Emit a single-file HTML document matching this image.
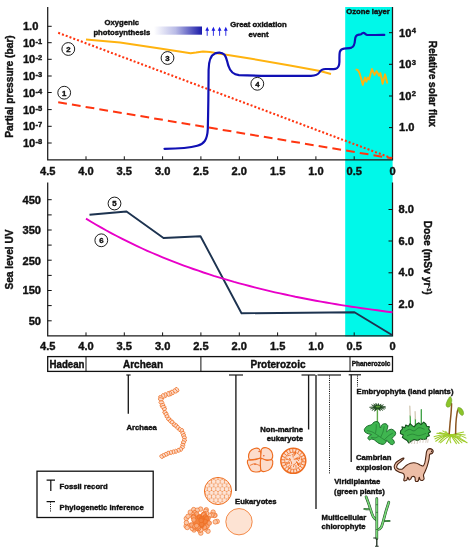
<!DOCTYPE html>
<html><head><meta charset="utf-8"><title>Figure</title>
<style>
html,body{margin:0;padding:0;background:#fff;}
svg{display:block;font-family:"Liberation Sans",Arial,sans-serif;font-weight:bold;fill:#111;}
text{stroke:#111;stroke-width:0.4px;stroke-linejoin:round;}
.ax{stroke:#1c1c1c;stroke-width:1.25;fill:none;}
.tk{stroke:#111;stroke-width:1;fill:none;}
.t10{font-size:11.1px;}
.lb{font-size:7.7px;}
.or{stroke:#f07224;fill:#fde3d3;stroke-width:0.8;}
</style></head><body>
<svg width="470" height="550" viewBox="0 0 470 550">
<defs>
<linearGradient id="og" x1="0" x2="1" y1="0" y2="0"><stop offset="0" stop-color="#ffffff"/><stop offset="0.45" stop-color="#b9bbe6"/><stop offset="1" stop-color="#1a1aa8"/></linearGradient>
<pattern id="hex" width="4.3" height="7.45" patternUnits="userSpaceOnUse" patternTransform="translate(205.1,476.1)">
<rect width="4.3" height="7.45" fill="#f08a48"/>
<circle cx="2.15" cy="1.86" r="2.0" fill="#fde4d6"/><circle cx="0" cy="5.59" r="2.0" fill="#fde4d6"/><circle cx="4.3" cy="5.59" r="2.0" fill="#fde4d6"/>
</pattern>
</defs>
<rect width="470" height="550" fill="#fff"/>

<rect x="345.2" y="7" width="47.4" height="329.5" fill="#00f8e9"/>
<path class="ax" d="M47.7 7V159.8H392.5V7"/>
<path class="tk" d="M47.7 26.3h4"/>
<path class="tk" d="M47.7 42.7h4"/>
<path class="tk" d="M47.7 59.3h4"/>
<path class="tk" d="M47.7 76h4"/>
<path class="tk" d="M47.7 92.5h4"/>
<path class="tk" d="M47.7 109.6h4"/>
<path class="tk" d="M47.7 126.3h4"/>
<path class="tk" d="M47.7 143h4"/>
<path class="tk" d="M392.5 32.7h-3.5"/>
<path class="tk" d="M392.5 64.3h-3.5"/>
<path class="tk" d="M392.5 96h-3.5"/>
<path class="tk" d="M392.5 127.6h-3.5"/>
<path class="tk" d="M354.2 159.8v-3.5"/>
<path class="tk" d="M315.9 159.8v-3.5"/>
<path class="tk" d="M277.6 159.8v-3.5"/>
<path class="tk" d="M239.3 159.8v-3.5"/>
<path class="tk" d="M200.9 159.8v-3.5"/>
<path class="tk" d="M162.6 159.8v-3.5"/>
<path class="tk" d="M124.3 159.8v-3.5"/>
<path class="tk" d="M86.0 159.8v-3.5"/>
<text class="t10" x="22.9" y="30.2">1.0</text>
<text class="t10" x="22.9" y="46.800000000000004">10<tspan font-size="7.5px" dx="0.3" dy="-3.1">-1</tspan></text>
<text class="t10" x="22.9" y="63.4">10<tspan font-size="7.5px" dx="0.3" dy="-3.1">-2</tspan></text>
<text class="t10" x="22.9" y="80.1">10<tspan font-size="7.5px" dx="0.3" dy="-3.1">-3</tspan></text>
<text class="t10" x="22.9" y="96.6">10<tspan font-size="7.5px" dx="0.3" dy="-3.1">-4</tspan></text>
<text class="t10" x="22.9" y="113.69999999999999">10<tspan font-size="7.5px" dx="0.3" dy="-3.1">-5</tspan></text>
<text class="t10" x="22.9" y="130.4">10<tspan font-size="7.5px" dx="0.3" dy="-3.1">-7</tspan></text>
<text class="t10" x="22.9" y="147.1">10<tspan font-size="7.5px" dx="0.3" dy="-3.1">-8</tspan></text>
<text class="t10" x="399" y="36.5">10<tspan font-size="7.6px" dx="0.5" dy="-3.4">4</tspan></text>
<text class="t10" x="399" y="68.1">10<tspan font-size="7.6px" dx="0.5" dy="-3.4">3</tspan></text>
<text class="t10" x="399" y="99.8">10<tspan font-size="7.6px" dx="0.5" dy="-3.4">2</tspan></text>
<text class="t10" x="399" y="131.2">1.0</text>
<text class="t10" text-anchor="middle" x="47.7" y="174.9">4.5</text>
<text class="t10" text-anchor="middle" x="47.7" y="350">4.5</text>
<text class="t10" text-anchor="middle" x="86.0" y="174.9">4.0</text>
<text class="t10" text-anchor="middle" x="86.0" y="350">4.0</text>
<text class="t10" text-anchor="middle" x="124.3" y="174.9">3.5</text>
<text class="t10" text-anchor="middle" x="124.3" y="350">3.5</text>
<text class="t10" text-anchor="middle" x="162.6" y="174.9">3.0</text>
<text class="t10" text-anchor="middle" x="162.6" y="350">3.0</text>
<text class="t10" text-anchor="middle" x="200.9" y="174.9">2.5</text>
<text class="t10" text-anchor="middle" x="200.9" y="350">2.5</text>
<text class="t10" text-anchor="middle" x="239.3" y="174.9">2.0</text>
<text class="t10" text-anchor="middle" x="239.3" y="350">2.0</text>
<text class="t10" text-anchor="middle" x="277.6" y="174.9">1.5</text>
<text class="t10" text-anchor="middle" x="277.6" y="350">1.5</text>
<text class="t10" text-anchor="middle" x="315.9" y="174.9">1.0</text>
<text class="t10" text-anchor="middle" x="315.9" y="350">1.0</text>
<text class="t10" text-anchor="middle" x="354.2" y="174.9">0.5</text>
<text class="t10" text-anchor="middle" x="354.2" y="350">0.5</text>
<text class="t10" text-anchor="middle" x="392.5" y="174.9">0</text>
<text class="t10" text-anchor="middle" x="392.5" y="350">0</text>
<text font-size="10.2px" text-anchor="middle" transform="translate(12.9,86.5) scale(1.06,1) rotate(-90)">Partial pressure (bar)</text>
<text font-size="10.1px" text-anchor="middle" transform="translate(428.6,83.8) scale(1.06,1) rotate(90)">Relative solar flux</text>
<path d="M58.2 102.3L392 158.3" stroke="#ff3510" stroke-width="2" stroke-dasharray="8.8 5.1" fill="none"/>
<path d="M58.2 32.8L392 158.3" stroke="#ff3510" stroke-width="2.1" stroke-dasharray="2 2.03" fill="none"/>
<path d="M86 39.6L120 42.5L160 48.5L190.6 53.2L196 52.6L203 51.5L210 52L220 53.8L250 58.5L290 65.5L320 71L331 74" stroke="#ffb30f" stroke-width="2" fill="none" stroke-linejoin="round"/>
<path d="M164.5 148.8C180 148.8 190 148 197.3 145.8C204 143.8 207.3 140 207.8 129C208.3 110 208.5 90 208.6 70C208.7 60 211 55 215 53.4C218 52.3 222 52 224.5 54.8C227 58 227 62 228.5 66C230 71 233 74.5 239 75.2C260 76 300 75.9 311 75.8C316 75.7 318 74.6 319.3 72.5C320.8 69.8 322.5 69 325.5 69C329 69 333 69.2 335.5 68.8C338.3 68.3 339.3 66 339.4 62C339.5 58 339.2 54.5 339.8 52C340.5 49.5 342 48.8 344 48.6C347 48.3 349.5 48.3 351.5 47.6C354.3 46.5 354.8 43 355 40C355.2 37 356 35.3 357.8 34.9C359 34.6 360.2 34.7 361 34.3C362.3 33.6 362.8 32.6 363.8 32.8C365 33 365.3 34.5 367 34.8C372 35.2 379 35 384.3 34.9" stroke="#1010b4" stroke-width="2.2" fill="none" stroke-linecap="round" stroke-linejoin="round"/>
<path d="M356.4 69.6L358 70.2L359.6 73.2L361.3 79L362.8 84.9L364.9 77.4L366.4 81.7L367.7 77.4L369.1 79.6L370.5 74L371.9 69L373.2 72L374.5 74.9L376.6 71L379.1 75.7L380.4 73.2L381.6 78.5L382.6 83.8L385.1 74.3L386.2 78.5L387.2 82.8" stroke="#ffb30f" stroke-width="1.9" fill="none" stroke-linejoin="round" stroke-linecap="round"/>
<text class="lb" text-anchor="middle" x="121.8" y="24.8">Oxygenic</text>
<text class="lb" text-anchor="middle" x="121.8" y="34.7">photosynthesis</text>
<rect x="154" y="26.5" width="48" height="8.2" fill="url(#og)"/>
<path d="M207.2 35.8V30" stroke="#1c1ce0" stroke-width="0.9" fill="none"/><path d="M205.29999999999998 30.8L207.2 26.8L209.1 30.8Z" fill="#1c1ce0"/>
<path d="M213.4 35.8V30" stroke="#1c1ce0" stroke-width="0.9" fill="none"/><path d="M211.5 30.8L213.4 26.8L215.3 30.8Z" fill="#1c1ce0"/>
<path d="M219.6 35.8V30" stroke="#1c1ce0" stroke-width="0.9" fill="none"/><path d="M217.7 30.8L219.6 26.8L221.5 30.8Z" fill="#1c1ce0"/>
<path d="M225.8 35.8V30" stroke="#1c1ce0" stroke-width="0.9" fill="none"/><path d="M223.9 30.8L225.8 26.8L227.70000000000002 30.8Z" fill="#1c1ce0"/>
<text class="lb" text-anchor="middle" x="258.5" y="27.2">Great oxidation</text>
<text class="lb" text-anchor="middle" x="258.5" y="36.6">event</text>
<text class="lb" text-anchor="middle" x="368" y="13.8" font-size="7.4px">Ozone layer</text>
<circle cx="64.2" cy="92.7" r="6.4" fill="#fff" stroke="#111" stroke-width="0.95"/><text font-size="7.8px" text-anchor="middle" x="64.2" y="95.5">1</text>
<circle cx="68.3" cy="49" r="6.4" fill="#fff" stroke="#111" stroke-width="0.95"/><text font-size="7.8px" text-anchor="middle" x="68.3" y="51.8">2</text>
<circle cx="167.5" cy="58" r="6.4" fill="#fff" stroke="#111" stroke-width="0.95"/><text font-size="7.8px" text-anchor="middle" x="167.5" y="60.8">3</text>
<circle cx="257.3" cy="83.8" r="6.4" fill="#fff" stroke="#111" stroke-width="0.95"/><text font-size="7.8px" text-anchor="middle" x="257.3" y="86.6">4</text>
<path class="ax" d="M47.7 182.5V335.9H392.5V182.5"/>
<path class="tk" d="M47.7 320.8h4"/>
<path class="tk" d="M47.7 305.6h4"/>
<path class="tk" d="M47.7 290.5h4"/>
<path class="tk" d="M47.7 275.4h4"/>
<path class="tk" d="M47.7 260.2h4"/>
<path class="tk" d="M47.7 245.1h4"/>
<path class="tk" d="M47.7 230.0h4"/>
<path class="tk" d="M47.7 214.9h4"/>
<path class="tk" d="M47.7 199.7h4"/>
<path class="tk" d="M392.5 209.5h-4"/>
<path class="tk" d="M392.5 241h-4"/>
<path class="tk" d="M392.5 272.8h-4"/>
<path class="tk" d="M392.5 304.5h-4"/>
<path class="tk" d="M354.2 335.9v-3.5"/>
<path class="tk" d="M315.9 335.9v-3.5"/>
<path class="tk" d="M277.6 335.9v-3.5"/>
<path class="tk" d="M239.3 335.9v-3.5"/>
<path class="tk" d="M200.9 335.9v-3.5"/>
<path class="tk" d="M162.6 335.9v-3.5"/>
<path class="tk" d="M124.3 335.9v-3.5"/>
<path class="tk" d="M86.0 335.9v-3.5"/>
<text class="t10" text-anchor="end" x="41" y="204.1">450</text>
<text class="t10" text-anchor="end" x="41" y="234.4">350</text>
<text class="t10" text-anchor="end" x="41" y="264.79999999999995">250</text>
<text class="t10" text-anchor="end" x="41" y="294.4">150</text>
<text class="t10" text-anchor="end" x="41" y="324.7">50</text>
<text class="t10" x="398.6" y="213.1">8.0</text>
<text class="t10" x="398.6" y="244.6">6.0</text>
<text class="t10" x="398.6" y="276.40000000000003">4.0</text>
<text class="t10" x="398.6" y="308.1">2.0</text>
<text font-size="10.1px" text-anchor="middle" transform="translate(12.6,259.6) scale(1.06,1) rotate(-90)">Sea level UV</text>
<text font-size="10.3px" text-anchor="middle" transform="translate(423.6,257.7) scale(1.06,1) rotate(90)">Dose (mSv yr<tspan font-size="5.5px" dy="-3.5">-1</tspan><tspan dy="3.5">)</tspan></text>
<path d="M89.5 214.7L126.5 211.5L163.5 238L200.5 236.2L241.5 313.3L354.5 312.2L392 335" stroke="#1d3350" stroke-width="1.9" fill="none" stroke-linejoin="round"/>
<path d="M86.0 218.6 L91.1 221.7 L96.2 224.7 L101.3 227.6 L106.4 230.5 L111.6 233.3 L116.7 236.0 L121.8 238.6 L126.9 241.2 L132.0 243.7 L137.1 246.1 L142.2 248.5 L147.3 250.8 L152.4 253.0 L157.5 255.2 L162.6 257.3 L167.7 259.4 L172.8 261.4 L178.0 263.4 L183.1 265.3 L188.2 267.2 L193.3 269.0 L198.4 270.7 L203.5 272.5 L208.6 274.1 L213.7 275.8 L218.8 277.3 L223.9 278.9 L229.0 280.4 L234.1 281.9 L239.3 283.3 L244.4 284.7 L249.5 286.0 L254.6 287.3 L259.7 288.6 L264.8 289.9 L269.9 291.1 L275.0 292.3 L280.1 293.4 L285.2 294.5 L290.3 295.6 L295.4 296.7 L300.6 297.7 L305.7 298.7 L310.8 299.7 L315.9 300.7 L321.0 301.6 L326.1 302.5 L331.2 303.4 L336.3 304.2 L341.4 305.1 L346.5 305.9 L351.6 306.7 L356.7 307.4 L361.9 308.2 L367.0 308.9 L372.1 309.6 L377.2 310.3 L382.3 311.0 L387.4 311.7 L392.5 312.3" stroke="#e800c8" stroke-width="1.9" fill="none"/>
<circle cx="114.5" cy="203.5" r="6.4" fill="#fff" stroke="#111" stroke-width="0.95"/><text font-size="7.8px" text-anchor="middle" x="114.5" y="206.3">5</text>
<circle cx="101.3" cy="240.3" r="6.4" fill="#fff" stroke="#111" stroke-width="0.95"/><text font-size="7.8px" text-anchor="middle" x="101.3" y="243.10000000000002">6</text>
<rect x="47.7" y="356.6" width="344.8" height="14.8" fill="#fff" stroke="#111" stroke-width="1.3"/>
<path class="tk" d="M86.0 356.6v14.8" stroke-width="1.2"/>
<path class="tk" d="M200.9 356.6v14.8" stroke-width="1.2"/>
<path class="tk" d="M350.0 356.6v14.8" stroke-width="1.2"/>
<text font-size="10px" text-anchor="middle" x="67" y="367.6" textLength="35" lengthAdjust="spacingAndGlyphs">Hadean</text>
<text font-size="10px" text-anchor="middle" x="143" y="367.6">Archean</text>
<text font-size="10px" text-anchor="middle" x="278" y="367.6">Proterozoic</text>
<text font-size="6.5px" text-anchor="middle" x="371" y="366.4">Phanerozoic</text>
<path d="M126.3 375H130.6" stroke="#1a1a1a" stroke-width="1.2" fill="none"/>
<path d="M128.3 375V413.8" stroke="#1a1a1a" stroke-width="1.35" fill="none"/>
<path d="M229 375H243" stroke="#1a1a1a" stroke-width="1.2" fill="none"/>
<path d="M235.9 375V491" stroke="#1a1a1a" stroke-width="1.35" fill="none"/>
<path d="M301.5 375H315.3" stroke="#1a1a1a" stroke-width="1.2" fill="none"/>
<path d="M308.6 375V429.5" stroke="#1a1a1a" stroke-width="1.35" fill="none"/>
<path d="M317.5 375H341" stroke="#1a1a1a" stroke-width="1.2" fill="none"/>
<path d="M316 375V509" stroke="#1a1a1a" stroke-width="1.35" fill="none"/>
<path d="M329.5 375.5V474.5" stroke="#111" stroke-width="1" stroke-dasharray="1.1 1.1" fill="none"/>
<path d="M348.7 374.8H361" stroke="#1a1a1a" stroke-width="1.2" fill="none"/>
<path d="M351.2 374.8V462" stroke="#1a1a1a" stroke-width="1.35" fill="none"/>
<path d="M357.5 375.5V387" stroke="#111" stroke-width="1" stroke-dasharray="1.1 1.1" fill="none"/>
<text class="lb" x="126.5" y="429.5">Archaea</text>
<text class="lb" text-anchor="end" x="303" y="431.5">Non-marine</text>
<text class="lb" text-anchor="end" x="303" y="441.2">eukaryote</text>
<text class="lb" x="235" y="503.8">Eukaryotes</text>
<text class="lb" x="356.5" y="393.5">Embryophyta (land plants)</text>
<text class="lb" x="356" y="460.3">Cambrian</text>
<text class="lb" x="356" y="470">explosion</text>
<text class="lb" text-anchor="middle" x="357.3" y="484.3">Viridiplantae</text>
<text class="lb" text-anchor="middle" x="359.5" y="494">(green plants)</text>
<text class="lb" x="321.5" y="519.5">Multicellular</text>
<text class="lb" x="321.5" y="529.3">chlorophyte</text>
<rect x="37" y="471.2" width="116.2" height="46.3" fill="#fff" stroke="#111" stroke-width="1.3"/>
<path d="M46.6 480.2H55M50.8 480.2V491" stroke="#111" stroke-width="1.25" fill="none"/>
<path d="M46.6 501.6H55" stroke="#111" stroke-width="1.25" fill="none"/><path d="M50.5 501.6V512.5" stroke="#111" stroke-width="1" stroke-dasharray="1.1 1.1" fill="none"/>
<text class="lb" x="59.5" y="489">Fossil record</text>
<text class="lb" x="59.5" y="509.8">Phylogenetic inference</text>
<g fill="#fcdccb" stroke="#ee6c20" stroke-width="0.7"><ellipse cx="177.0" cy="389.7" rx="1.55" ry="2.5" transform="rotate(147 177.0 389.7)"/><ellipse cx="175.1" cy="391.0" rx="1.55" ry="2.5" transform="rotate(136 175.1 391.0)"/><ellipse cx="172.3" cy="392.4" rx="1.55" ry="2.5" transform="rotate(146 172.3 392.4)"/><ellipse cx="170.2" cy="393.5" rx="1.55" ry="2.5" transform="rotate(157 170.2 393.5)"/><ellipse cx="168.4" cy="394.0" rx="1.55" ry="2.5" transform="rotate(164 168.4 394.0)"/><ellipse cx="165.4" cy="395.1" rx="1.55" ry="2.5" transform="rotate(172 165.4 395.1)"/><ellipse cx="163.3" cy="396.0" rx="1.55" ry="2.5" transform="rotate(159 163.3 396.0)"/><ellipse cx="160.9" cy="397.5" rx="1.55" ry="2.5" transform="rotate(124 160.9 397.5)"/><ellipse cx="160.8" cy="399.3" rx="1.55" ry="2.5" transform="rotate(101 160.8 399.3)"/><ellipse cx="161.4" cy="402.4" rx="1.55" ry="2.5" transform="rotate(90 161.4 402.4)"/><ellipse cx="162.4" cy="405.1" rx="1.55" ry="2.5" transform="rotate(67 162.4 405.1)"/><ellipse cx="163.4" cy="407.0" rx="1.55" ry="2.5" transform="rotate(83 163.4 407.0)"/><ellipse cx="164.5" cy="409.0" rx="1.55" ry="2.1" transform="rotate(55 164.5 409.0)"/><ellipse cx="164.8" cy="412.2" rx="1.55" ry="2.1" transform="rotate(67 164.8 412.2)"/><ellipse cx="166.1" cy="414.0" rx="1.55" ry="2.1" transform="rotate(67 166.1 414.0)"/><ellipse cx="167.0" cy="416.3" rx="1.55" ry="2.1" transform="rotate(63 167.0 416.3)"/><ellipse cx="168.6" cy="418.9" rx="1.55" ry="2.1" transform="rotate(60 168.6 418.9)"/><ellipse cx="170.5" cy="420.8" rx="1.55" ry="2.1" transform="rotate(67 170.5 420.8)"/><ellipse cx="172.0" cy="422.1" rx="1.55" ry="2.1" transform="rotate(59 172.0 422.1)"/><ellipse cx="174.1" cy="424.5" rx="1.55" ry="2.1" transform="rotate(46 174.1 424.5)"/><ellipse cx="175.8" cy="425.6" rx="1.55" ry="2.1" transform="rotate(53 175.8 425.6)"/><ellipse cx="177.6" cy="427.4" rx="1.55" ry="2.1" transform="rotate(23 177.6 427.4)"/><ellipse cx="179.8" cy="429.5" rx="1.55" ry="2.1" transform="rotate(22 179.8 429.5)"/><ellipse cx="181.8" cy="430.5" rx="1.55" ry="2.1" transform="rotate(34 181.8 430.5)"/><ellipse cx="182.8" cy="433.0" rx="1.55" ry="2.1" transform="rotate(76 182.8 433.0)"/><ellipse cx="183.5" cy="435.2" rx="1.55" ry="2.1" transform="rotate(59 183.5 435.2)"/><ellipse cx="184.4" cy="437.5" rx="1.55" ry="2.1" transform="rotate(102 184.4 437.5)"/><ellipse cx="184.5" cy="440.2" rx="1.55" ry="2.1" transform="rotate(114 184.5 440.2)"/><ellipse cx="183.5" cy="442.3" rx="1.55" ry="2.1" transform="rotate(103 183.5 442.3)"/><ellipse cx="182.8" cy="444.9" rx="1.55" ry="2.1" transform="rotate(102 182.8 444.9)"/><ellipse cx="182.4" cy="447.2" rx="1.55" ry="2.1" transform="rotate(106 182.4 447.2)"/><ellipse cx="180.9" cy="449.2" rx="1.55" ry="2.1" transform="rotate(161 180.9 449.2)"/><ellipse cx="178.6" cy="450.3" rx="1.55" ry="2.1" transform="rotate(157 178.6 450.3)"/><ellipse cx="175.8" cy="451.3" rx="1.55" ry="2.1" transform="rotate(168 175.8 451.3)"/><ellipse cx="173.4" cy="451.9" rx="1.55" ry="2.1" transform="rotate(181 173.4 451.9)"/><ellipse cx="170.9" cy="452.5" rx="1.55" ry="2.1" transform="rotate(170 170.9 452.5)"/><ellipse cx="168.2" cy="453.2" rx="1.55" ry="2.1" transform="rotate(177 168.2 453.2)"/><ellipse cx="166.1" cy="454.3" rx="1.55" ry="2.1" transform="rotate(140 166.1 454.3)"/><ellipse cx="163.7" cy="455.4" rx="1.55" ry="2.1" transform="rotate(137 163.7 455.4)"/><ellipse cx="161.6" cy="456.6" rx="1.55" ry="2.1" transform="rotate(136 161.6 456.6)"/></g>
<circle cx="218" cy="491" r="13.6" fill="url(#hex)" stroke="#f07224" stroke-width="1"/>
<circle cx="239" cy="521.7" r="13.2" class="or" stroke-width="1"/>
<ellipse cx="201" cy="521" rx="9" ry="7" fill="#f3843f"/>
<circle cx="213.1" cy="512.1" r="2.25" fill="#fbc9aa" stroke="#ee6c20" stroke-width="0.65"/>
<circle cx="193.7" cy="509.6" r="2.25" fill="#fbc9aa" stroke="#ee6c20" stroke-width="0.65"/>
<circle cx="186.1" cy="526.1" r="2.25" fill="#fbc9aa" stroke="#ee6c20" stroke-width="0.65"/>
<circle cx="217.2" cy="521.4" r="2.25" fill="#fbc9aa" stroke="#ee6c20" stroke-width="0.65"/>
<circle cx="187.2" cy="527.5" r="2.25" fill="#fbc9aa" stroke="#ee6c20" stroke-width="0.65"/>
<circle cx="215.0" cy="515.3" r="2.25" fill="#fbc9aa" stroke="#ee6c20" stroke-width="0.65"/>
<circle cx="190.3" cy="512.2" r="2.25" fill="#fbc9aa" stroke="#ee6c20" stroke-width="0.65"/>
<circle cx="200.8" cy="533.1" r="2.25" fill="#fbc9aa" stroke="#ee6c20" stroke-width="0.65"/>
<circle cx="206.3" cy="509.8" r="2.25" fill="#fbc9aa" stroke="#ee6c20" stroke-width="0.65"/>
<circle cx="200.6" cy="509.1" r="2.25" fill="#fbc9aa" stroke="#ee6c20" stroke-width="0.65"/>
<circle cx="186.3" cy="518.5" r="2.25" fill="#fbc9aa" stroke="#ee6c20" stroke-width="0.65"/>
<circle cx="214.2" cy="515.5" r="2.25" fill="#fbc9aa" stroke="#ee6c20" stroke-width="0.65"/>
<circle cx="208.0" cy="531.2" r="2.25" fill="#fbc9aa" stroke="#ee6c20" stroke-width="0.65"/>
<circle cx="186.4" cy="522.6" r="2.25" fill="#fbc9aa" stroke="#ee6c20" stroke-width="0.65"/>
<circle cx="215.3" cy="521.9" r="2.25" fill="#fbc9aa" stroke="#ee6c20" stroke-width="0.65"/>
<circle cx="197.2" cy="510.2" r="2.25" fill="#fbc9aa" stroke="#ee6c20" stroke-width="0.65"/>
<circle cx="188.0" cy="516.3" r="2.25" fill="#fbc9aa" stroke="#ee6c20" stroke-width="0.65"/>
<circle cx="212.4" cy="514.8" r="2.25" fill="#fbc9aa" stroke="#ee6c20" stroke-width="0.65"/>
<circle cx="194.0" cy="530.0" r="2.25" fill="#fbc9aa" stroke="#ee6c20" stroke-width="0.65"/>
<circle cx="205.7" cy="511.2" r="2.25" fill="#fbc9aa" stroke="#ee6c20" stroke-width="0.65"/>
<circle cx="192.2" cy="528.4" r="2.25" fill="#fbc9aa" stroke="#ee6c20" stroke-width="0.65"/>
<circle cx="211.2" cy="515.2" r="2.25" fill="#fbc9aa" stroke="#ee6c20" stroke-width="0.65"/>
<circle cx="199.6" cy="530.4" r="2.25" fill="#fbc9aa" stroke="#ee6c20" stroke-width="0.65"/>
<circle cx="194.7" cy="512.9" r="2.25" fill="#fbc9aa" stroke="#ee6c20" stroke-width="0.65"/>
<circle cx="194.8" cy="513.0" r="2.25" fill="#fbc9aa" stroke="#ee6c20" stroke-width="0.65"/>
<circle cx="190.8" cy="525.2" r="2.25" fill="#fbc9aa" stroke="#ee6c20" stroke-width="0.65"/>
<circle cx="193.1" cy="514.6" r="2.25" fill="#fbc9aa" stroke="#ee6c20" stroke-width="0.65"/>
<circle cx="200.9" cy="529.8" r="2.25" fill="#fbc9aa" stroke="#ee6c20" stroke-width="0.65"/>
<circle cx="209.4" cy="515.2" r="2.25" fill="#fbc9aa" stroke="#ee6c20" stroke-width="0.65"/>
<circle cx="206.5" cy="513.5" r="2.25" fill="#fbc9aa" stroke="#ee6c20" stroke-width="0.65"/>
<circle cx="205.2" cy="529.0" r="2.25" fill="#fbc9aa" stroke="#ee6c20" stroke-width="0.65"/>
<circle cx="194.9" cy="527.9" r="2.25" fill="#f8a878" stroke="#ee6c20" stroke-width="0.65"/>
<circle cx="191.7" cy="525.0" r="2.25" fill="#f8a878" stroke="#ee6c20" stroke-width="0.65"/>
<circle cx="197.8" cy="528.6" r="2.25" fill="#f8a878" stroke="#ee6c20" stroke-width="0.65"/>
<circle cx="196.7" cy="514.0" r="2.25" fill="#f8a878" stroke="#ee6c20" stroke-width="0.65"/>
<circle cx="204.4" cy="513.8" r="2.25" fill="#f8a878" stroke="#ee6c20" stroke-width="0.65"/>
<circle cx="193.6" cy="516.1" r="2.25" fill="#f8a878" stroke="#ee6c20" stroke-width="0.65"/>
<circle cx="198.6" cy="528.4" r="2.25" fill="#f8a878" stroke="#ee6c20" stroke-width="0.65"/>
<circle cx="196.8" cy="527.8" r="2.25" fill="#f8a878" stroke="#ee6c20" stroke-width="0.65"/>
<circle cx="193.1" cy="516.9" r="2.25" fill="#f8a878" stroke="#ee6c20" stroke-width="0.65"/>
<circle cx="194.9" cy="526.5" r="2.25" fill="#f8a878" stroke="#ee6c20" stroke-width="0.65"/>
<circle cx="205.3" cy="527.3" r="2.25" fill="#f8a878" stroke="#ee6c20" stroke-width="0.65"/>
<circle cx="207.2" cy="526.1" r="2.25" fill="#f8a878" stroke="#ee6c20" stroke-width="0.65"/>
<circle cx="193.4" cy="517.3" r="2.25" fill="#f8a878" stroke="#ee6c20" stroke-width="0.65"/>
<circle cx="204.6" cy="527.3" r="2.25" fill="#f8a878" stroke="#ee6c20" stroke-width="0.65"/>
<circle cx="209.3" cy="523.1" r="2.25" fill="#f8a878" stroke="#ee6c20" stroke-width="0.65"/>
<circle cx="203.4" cy="514.5" r="2.25" fill="#f8a878" stroke="#ee6c20" stroke-width="0.65"/>
<circle cx="203.7" cy="515.0" r="2.25" fill="#f8a878" stroke="#ee6c20" stroke-width="0.65"/>
<circle cx="198.1" cy="526.7" r="2.25" fill="#f8a878" stroke="#ee6c20" stroke-width="0.65"/>
<circle cx="208.1" cy="518.3" r="2.25" fill="#f8a878" stroke="#ee6c20" stroke-width="0.65"/>
<circle cx="196.6" cy="525.7" r="2.25" fill="#f8a878" stroke="#ee6c20" stroke-width="0.65"/>
<circle cx="193.8" cy="519.9" r="2.25" fill="#f8a878" stroke="#ee6c20" stroke-width="0.65"/>
<circle cx="205.2" cy="516.8" r="2.25" fill="#f2813c" stroke="#ee6c20" stroke-width="0.65"/>
<circle cx="206.8" cy="518.5" r="2.25" fill="#f2813c" stroke="#ee6c20" stroke-width="0.65"/>
<circle cx="201.9" cy="525.5" r="2.25" fill="#f2813c" stroke="#ee6c20" stroke-width="0.65"/>
<circle cx="199.3" cy="517.1" r="2.25" fill="#f2813c" stroke="#ee6c20" stroke-width="0.65"/>
<circle cx="201.6" cy="524.4" r="2.25" fill="#f2813c" stroke="#ee6c20" stroke-width="0.65"/>
<circle cx="205.1" cy="521.4" r="2.25" fill="#f2813c" stroke="#ee6c20" stroke-width="0.65"/>
<circle cx="202.3" cy="518.4" r="2.25" fill="#f2813c" stroke="#ee6c20" stroke-width="0.65"/>
<circle cx="201.4" cy="518.9" r="2.25" fill="#f2813c" stroke="#ee6c20" stroke-width="0.65"/>
<circle cx="201.6" cy="520.0" r="2.25" fill="#f2813c" stroke="#ee6c20" stroke-width="0.65"/>
<circle cx="201.1" cy="520.5" r="2.25" fill="#f2813c" stroke="#ee6c20" stroke-width="0.65"/>
<path d="M248.5 457.0C248.5 455.7 248.9 453.0 249.9 451.6C250.9 450.2 252.9 449.0 254.5 448.5C256.0 448.1 258.0 448.1 259.1 448.9C260.1 449.6 260.5 451.3 260.8 452.8C261.0 454.3 261.5 456.8 260.8 457.9C260.0 458.9 257.9 458.8 256.2 459.1C254.4 459.4 251.5 460.1 250.2 459.7C248.9 459.4 248.6 458.4 248.5 457.0Z" fill="#fcdccb" stroke="#ee6c20" stroke-width="1.15" stroke-linejoin="round"/>
<path d="M261.1 452.8C261.2 451.2 260.9 449.7 261.8 448.9C262.7 448.0 264.9 447.5 266.4 447.8C267.9 448.1 269.9 449.3 271.0 450.6C272.0 451.8 272.6 453.9 272.7 455.3C272.8 456.7 272.6 458.3 271.7 459.1C270.8 459.9 269.0 460.2 267.2 460.1C265.5 460.0 262.1 459.6 261.1 458.4C260.1 457.2 261.0 454.4 261.1 452.8Z" fill="#fcdccb" stroke="#ee6c20" stroke-width="1.15" stroke-linejoin="round"/>
<path d="M247.8 460.1C248.3 459.6 248.8 460.2 250.2 460.1C251.6 460.0 254.4 459.7 256.2 459.4C257.9 459.1 260.1 457.4 260.8 458.4C261.5 459.4 260.4 463.5 260.4 465.5C260.4 467.6 261.3 469.6 260.8 470.6C260.2 471.7 258.4 471.9 257.0 472.0C255.6 472.1 253.4 471.9 252.3 471.3C251.1 470.8 250.5 469.6 249.9 468.6C249.2 467.6 248.9 466.5 248.5 465.5C248.1 464.6 247.6 463.9 247.5 463.0C247.4 462.1 247.4 460.6 247.8 460.1Z" fill="#fcdccb" stroke="#ee6c20" stroke-width="1.15" stroke-linejoin="round"/>
<path d="M261.1 458.7C262.2 457.9 265.4 460.3 267.2 460.4C269.0 460.6 271.1 459.2 272.0 459.7C272.9 460.3 272.9 462.4 272.7 463.8C272.5 465.3 271.8 467.3 270.6 468.6C269.4 469.8 267.1 471.0 265.5 471.3C264.0 471.7 262.1 471.6 261.3 470.6C260.4 469.7 260.5 467.5 260.4 465.5C260.4 463.5 260.0 459.6 261.1 458.7Z" fill="#fcdccb" stroke="#ee6c20" stroke-width="1.15" stroke-linejoin="round"/>
<path d="M249.9 465.5C250.6 465.2 252.9 463.8 254.5 463.8C256.1 463.8 258.7 465.2 259.6 465.5" fill="none" stroke="#ee6c20" stroke-width="0.9"/>
<circle cx="259.1" cy="451.6" r="0.75" fill="#e2571a"/>
<circle cx="263.8" cy="455.7" r="0.75" fill="#e2571a"/>
<circle cx="255.0" cy="464.2" r="0.75" fill="#e2571a"/>
<circle cx="293.3" cy="460.8" r="12.5" fill="#fcdccb" stroke="#ee6c20" stroke-width="1.5"/>
<path d="M305.7 462.0L301.9 461.7" stroke="#ee6c20" stroke-width="0.9"/>
<path d="M304.9 465.5L301.3 464.0" stroke="#ee6c20" stroke-width="0.9"/>
<path d="M303.1 468.6L300.0 466.1" stroke="#ee6c20" stroke-width="0.9"/>
<path d="M300.5 471.0L298.3 467.8" stroke="#ee6c20" stroke-width="0.9"/>
<path d="M297.3 472.6L296.1 468.9" stroke="#ee6c20" stroke-width="0.9"/>
<path d="M293.8 473.3L293.7 469.4" stroke="#ee6c20" stroke-width="0.9"/>
<path d="M290.3 472.9L291.2 469.1" stroke="#ee6c20" stroke-width="0.9"/>
<path d="M287.0 471.6L289.0 468.2" stroke="#ee6c20" stroke-width="0.9"/>
<path d="M284.2 469.4L287.0 466.7" stroke="#ee6c20" stroke-width="0.9"/>
<path d="M282.2 466.5L285.6 464.7" stroke="#ee6c20" stroke-width="0.9"/>
<path d="M281.0 463.1L284.8 462.4" stroke="#ee6c20" stroke-width="0.9"/>
<path d="M280.9 459.6L284.7 459.9" stroke="#ee6c20" stroke-width="0.9"/>
<path d="M281.7 456.1L285.3 457.6" stroke="#ee6c20" stroke-width="0.9"/>
<path d="M283.5 453.0L286.6 455.5" stroke="#ee6c20" stroke-width="0.9"/>
<path d="M286.1 450.6L288.3 453.8" stroke="#ee6c20" stroke-width="0.9"/>
<path d="M289.3 449.0L290.5 452.7" stroke="#ee6c20" stroke-width="0.9"/>
<path d="M292.8 448.3L292.9 452.2" stroke="#ee6c20" stroke-width="0.9"/>
<path d="M296.3 448.7L295.4 452.5" stroke="#ee6c20" stroke-width="0.9"/>
<path d="M299.6 450.0L297.6 453.4" stroke="#ee6c20" stroke-width="0.9"/>
<path d="M302.4 452.2L299.6 454.9" stroke="#ee6c20" stroke-width="0.9"/>
<path d="M304.4 455.1L301.0 456.9" stroke="#ee6c20" stroke-width="0.9"/>
<path d="M305.6 458.5L301.8 459.2" stroke="#ee6c20" stroke-width="0.9"/>
<circle cx="293.3" cy="460.8" r="8.6" fill="none" stroke="#ee6c20" stroke-width="0.7"/>
<path d="M296.0 461.8q1.6 -0.4 1.2 1.2" stroke="#ee6c20" stroke-width="0.85" fill="none"/>
<path d="M300.8 459.6q2.3 -0.2 2.6 1.5" stroke="#ee6c20" stroke-width="0.85" fill="none"/>
<path d="M291.4 465.0q-0.0 0.4 -2.0 2.8" stroke="#ee6c20" stroke-width="0.85" fill="none"/>
<path d="M289.1 458.2q1.4 0.2 0.9 2.3" stroke="#ee6c20" stroke-width="0.85" fill="none"/>
<path d="M297.7 465.1q0.7 -2.3 -0.6 -2.6" stroke="#ee6c20" stroke-width="0.85" fill="none"/>
<path d="M296.3 462.5q-0.2 0.2 -2.3 2.4" stroke="#ee6c20" stroke-width="0.85" fill="none"/>
<path d="M294.3 455.8q1.5 -2.6 1.1 -3.2" stroke="#ee6c20" stroke-width="0.85" fill="none"/>
<path d="M288.8 462.9q-0.8 -1.0 -3.6 0.1" stroke="#ee6c20" stroke-width="0.85" fill="none"/>
<path d="M287.3 464.1q-0.1 -0.7 -2.2 0.5" stroke="#ee6c20" stroke-width="0.85" fill="none"/>
<path d="M286.6 459.3q2.2 -0.4 2.5 1.2" stroke="#ee6c20" stroke-width="0.85" fill="none"/>
<path d="M286.4 464.3q2.2 -1.5 2.4 -1.0" stroke="#ee6c20" stroke-width="0.85" fill="none"/>
<path d="M299.1 456.4q0.9 0.4 -0.2 2.9" stroke="#ee6c20" stroke-width="0.85" fill="none"/>
<path d="M298.6 466.0q-0.1 -2.8 -2.2 -3.5" stroke="#ee6c20" stroke-width="0.85" fill="none"/>
<path d="M295.1 454.3q0.8 -2.6 -0.3 -3.2" stroke="#ee6c20" stroke-width="0.85" fill="none"/>
<path d="M298.3 464.6q2.0 -1.0 1.9 0.1" stroke="#ee6c20" stroke-width="0.85" fill="none"/>
<path d="M293.6 459.1q1.8 -0.5 1.5 1.0" stroke="#ee6c20" stroke-width="0.85" fill="none"/>
<path d="M295.8 458.4q3.0 -0.7 4.0 0.6" stroke="#ee6c20" stroke-width="0.85" fill="none"/>
<path d="M298.7 466.0q0.1 -2.8 -1.9 -3.6" stroke="#ee6c20" stroke-width="0.85" fill="none"/>
<path d="M299.3 459.0q1.2 -1.8 0.5 -1.5" stroke="#ee6c20" stroke-width="0.85" fill="none"/>
<path d="M293.9 455.0q0.8 -1.9 -0.4 -1.8" stroke="#ee6c20" stroke-width="0.85" fill="none"/>
<path d="M293.2 452.9q2.1 -0.5 2.3 0.9" stroke="#ee6c20" stroke-width="0.85" fill="none"/>
<path d="M286.4 457.9q1.1 0.0 0.1 2.0" stroke="#ee6c20" stroke-width="0.85" fill="none"/>
<path d="M293.3 467.2q1.0 -2.3 0.1 -2.7" stroke="#ee6c20" stroke-width="0.85" fill="none"/>
<path d="M289.8 464.6q0.2 0.1 -1.6 2.2" stroke="#ee6c20" stroke-width="0.85" fill="none"/>
<path d="M298.3 463.7q2.3 -1.2 2.7 -0.5" stroke="#ee6c20" stroke-width="0.85" fill="none"/>
<path d="M293.2 457.5q0.3 -2.8 -1.4 -3.5" stroke="#ee6c20" stroke-width="0.85" fill="none"/>
<path d="M290.6 455.6q-0.7 -0.8 -3.4 0.4" stroke="#ee6c20" stroke-width="0.85" fill="none"/>
<path d="M295.8 458.9q2.5 0.1 3.1 2.1" stroke="#ee6c20" stroke-width="0.85" fill="none"/>
<path d="M298.4 457.8q-0.7 -0.4 -3.4 1.3" stroke="#ee6c20" stroke-width="0.85" fill="none"/>
<path d="M295.0 464.7q1.5 0.5 1.0 3.1" stroke="#ee6c20" stroke-width="0.85" fill="none"/>
<path d="M291.7 464.4q0.2 -3.0 -1.6 -4.1" stroke="#ee6c20" stroke-width="0.85" fill="none"/>
<path d="M291.3 467.4q-0.7 0.1 -3.5 2.1" stroke="#ee6c20" stroke-width="0.85" fill="none"/>
<path d="M289.6 458.7q1.2 -0.2 0.3 1.5" stroke="#ee6c20" stroke-width="0.85" fill="none"/>
<path d="M288.3 461.5q1.6 0.1 1.2 2.3" stroke="#ee6c20" stroke-width="0.85" fill="none"/>
<path d="M377.4 423V409" stroke="#62ab4a" stroke-width="1.4" fill="none"/>
<path d="M364.3 429.7C364.4 429.0 365.7 427.3 366.3 426.7C367.0 426.1 368.4 425.7 369.2 425.4C369.9 425.1 371.1 425.0 371.7 424.6C372.3 424.3 372.7 423.3 373.2 422.8C373.8 422.4 374.8 421.7 375.5 421.6C376.3 421.5 377.8 421.6 378.4 422.1C378.9 422.5 379.3 423.8 379.6 424.6C379.9 425.5 380.1 427.8 380.4 428.0C380.6 428.1 381.0 426.0 381.4 425.4C381.8 424.8 382.8 424.1 383.5 423.9C384.1 423.6 385.4 423.6 386.0 423.9C386.6 424.1 387.6 425.0 387.8 425.7C388.0 426.3 387.5 428.0 387.3 428.8C387.1 429.7 386.3 431.6 386.5 431.8C386.7 432.0 387.9 430.5 388.6 430.1C389.3 429.8 390.7 429.1 391.5 429.2C392.3 429.3 393.9 430.2 394.4 430.8C395.0 431.3 395.7 432.6 395.7 433.3C395.7 434.1 395.0 435.4 394.4 436.1C393.9 436.8 392.0 437.6 391.9 438.2C391.7 438.7 393.1 439.3 393.4 440.0C393.8 440.6 394.5 441.9 394.4 442.5C394.4 443.2 393.3 444.3 392.8 444.6C392.2 444.8 391.2 444.5 390.6 444.2C390.0 443.8 388.9 442.6 388.3 442.0C387.8 441.4 387.1 439.9 386.8 440.0C386.4 440.0 386.2 441.9 385.8 442.5C385.3 443.1 384.2 444.1 383.5 444.3C382.7 444.5 381.5 444.3 380.7 444.0C379.8 443.8 378.3 443.1 377.5 442.5C376.6 441.9 375.3 440.4 374.5 440.0C373.7 439.5 372.4 439.1 371.7 439.1C371.0 439.1 369.9 440.1 369.4 440.0C368.9 439.8 367.9 438.7 367.9 438.2C367.8 437.6 368.7 436.4 369.2 435.9C369.7 435.4 371.6 434.9 371.5 434.6C371.3 434.3 369.0 434.1 368.1 433.8C367.3 433.5 365.9 432.9 365.3 432.3C364.8 431.7 364.2 430.5 364.3 429.7Z" fill="#3fb650" stroke="#1b6a2a" stroke-width="1" stroke-linejoin="round"/>
<path d="M367.2 430.5C368.2 430.8 371.0 431.3 373.0 432.3C375.0 433.3 377.4 435.2 379.4 436.5C381.4 437.8 383.4 439.3 385.1 440.3C386.8 441.3 388.8 442.1 389.6 442.5" fill="none" stroke="#1b6a2a" stroke-width="0.55"/>
<path d="M375.5 433.3C375.6 432.5 376.1 429.7 376.2 428.2C376.3 426.7 376.2 424.8 376.2 424.1" fill="none" stroke="#1b6a2a" stroke-width="0.55"/>
<path d="M380.7 437.1C381.0 436.3 382.4 433.8 383.0 432.0C383.5 430.2 384.0 427.2 384.2 426.3" fill="none" stroke="#1b6a2a" stroke-width="0.55"/>
<path d="M384.5 439.7C385.1 439.1 386.9 437.0 388.3 435.9C389.7 434.8 392.0 433.5 392.8 433.1" fill="none" stroke="#1b6a2a" stroke-width="0.55"/>
<path d="M378.7 436.1C378.2 436.4 376.8 437.6 375.5 437.8C374.3 438.0 371.8 437.5 371.1 437.4" fill="none" stroke="#1b6a2a" stroke-width="0.55"/>
<path d="M371.5 404.7L374.7 406.2L373.8 403.7L375.6 405.7L375.9 403.2L377.3 405.4L378.4 403.4L379.3 405.6L381.0 403.9L380.4 406.1L383.5 404.7L380.8 406.6L385.5 406.5L380.9 407.1L385.9 408.0L380.8 407.4L384.5 409.3L380.6 407.8L382.7 410.6L380.0 408.2L380.4 410.8L377.6 408.7L374.5 411.3L375.2 408.2L372.0 410.6L374.6 407.7L370.4 409.0L374.3 407.3L369.4 407.3L374.3 406.7Z" fill="#1d4f1f" stroke="#143a15" stroke-width="0.5" stroke-linejoin="round"/>
<ellipse cx="378" cy="406.6" rx="2.4" ry="0.9" fill="#5f9e3c"/>
<path d="M410.2 415.7L410.5 427.7" stroke="#45a845" stroke-width="1.3" fill="none" stroke-linecap="round"/>
<path d="M409.8 406.2L410.2 415.7" stroke="#d2c8b4" stroke-width="1.3" fill="none" stroke-linecap="round"/>
<path d="M415.4 418.9L415.4 427.7" stroke="#45a845" stroke-width="1.3" fill="none" stroke-linecap="round"/>
<path d="M415.1 411.7L415.4 418.9" stroke="#d2c8b4" stroke-width="1.3" fill="none" stroke-linecap="round"/>
<path d="M421.3 409.7L421.3 426.1" stroke="#3a9f42" stroke-width="1.3" fill="none" stroke-linecap="round"/>
<path d="M400.6 430.9L402.5 428.8L402.0 426.9L404.9 427.7L405.8 425.0L408.4 426.3L410.0 423.7L412.2 425.6L414.1 426.9L416.2 424.3L418.9 422.8L421.0 424.7L423.7 422.1L425.8 424.0L426.7 426.3L429.4 426.7L428.7 429.1L430.6 431.7L428.3 433.3L429.4 435.7L426.9 436.8L426.3 439.0L423.1 439.5L420.5 439.0L417.5 440.6L414.1 439.5L411.1 441.3L408.7 443.0L407.1 440.5L404.6 439.0L402.3 437.4L403.3 434.9L400.4 433.4Z" fill="#3db048" stroke="#14501e" stroke-width="1.1" stroke-linejoin="round"/>
<path d="M404.6 431.7C405.4 431.3 407.8 429.4 409.4 429.3C410.9 429.2 412.5 431.2 414.1 430.9C415.7 430.6 417.2 428.0 418.9 427.7C420.7 427.4 423.6 429.0 424.5 429.3" fill="none" stroke="#1a6a2a" stroke-width="0.6"/>
<path d="M407.0 435.7C407.9 435.4 410.6 434.1 412.5 434.1C414.5 434.1 416.7 435.8 418.9 435.7C421.2 435.5 424.9 433.7 426.1 433.3" fill="none" stroke="#1a6a2a" stroke-width="0.5"/>
<path d="M409.7 440.6L409.2 443.6" stroke="#bfae9c" stroke-width="0.6" fill="none" stroke-linecap="round"/>
<path d="M412.2 440.6L411.7 443.6" stroke="#bfae9c" stroke-width="0.6" fill="none" stroke-linecap="round"/>
<path d="M414.8 440.6L414.3 443.6" stroke="#bfae9c" stroke-width="0.6" fill="none" stroke-linecap="round"/>
<path d="M417.6 440.6L417.2 443.6" stroke="#bfae9c" stroke-width="0.6" fill="none" stroke-linecap="round"/>
<path d="M420.5 439.3L420.0 442.4" stroke="#bfae9c" stroke-width="0.6" fill="none" stroke-linecap="round"/>
<path d="M423.4 439.3L422.9 442.4" stroke="#bfae9c" stroke-width="0.6" fill="none" stroke-linecap="round"/>
<path d="M426.3 439.3L425.8 442.4" stroke="#bfae9c" stroke-width="0.6" fill="none" stroke-linecap="round"/>
<path d="M428.2 439.3L427.7 442.4" stroke="#bfae9c" stroke-width="0.6" fill="none" stroke-linecap="round"/>
<path d="M434.9 438.9C436.2 438.3 440.2 436.3 442.8 435.7C445.5 435.0 449.5 435.0 450.8 434.9" fill="none" stroke="#9fcc2a" stroke-width="1.05" stroke-linecap="round"/>
<path d="M438.9 442.2C439.8 441.3 442.8 438.0 444.8 436.8C446.8 435.6 449.8 435.2 450.8 434.9" fill="none" stroke="#9fcc2a" stroke-width="1.05" stroke-linecap="round"/>
<path d="M450.8 434.9C451.6 435.2 453.3 435.7 455.6 436.8C457.9 437.9 463.0 440.8 464.5 441.6" fill="none" stroke="#9fcc2a" stroke-width="1.05" stroke-linecap="round"/>
<path d="M450.8 434.9C451.4 435.4 452.9 436.6 454.3 438.1C455.7 439.5 458.3 442.6 459.1 443.5" fill="none" stroke="#9fcc2a" stroke-width="1.05" stroke-linecap="round"/>
<path d="M450.8 434.9C450.7 435.7 450.0 438.3 450.0 439.7C450.0 441.0 450.7 442.3 450.8 442.8" fill="none" stroke="#9fcc2a" stroke-width="1.05" stroke-linecap="round"/>
<path d="M439.7 432.5C440.6 432.7 443.4 433.4 445.2 433.8C447.1 434.2 449.9 434.7 450.8 434.9" fill="none" stroke="#9fcc2a" stroke-width="1.05" stroke-linecap="round"/>
<path d="M450.8 434.9C452.0 434.8 455.6 434.2 458.0 434.2C460.4 434.2 464.0 434.8 465.2 434.9" fill="none" stroke="#9fcc2a" stroke-width="1.05" stroke-linecap="round"/>
<path d="M434.1 436.8C435.3 436.5 438.6 435.2 441.3 434.9C443.9 434.5 448.6 434.6 450.0 434.6" fill="none" stroke="#9fcc2a" stroke-width="1.05" stroke-linecap="round"/>
<path d="M435.7 441.3C436.9 440.5 440.3 437.8 442.8 436.8C445.4 435.7 449.5 435.2 450.8 434.9" fill="none" stroke="#9fcc2a" stroke-width="1.05" stroke-linecap="round"/>
<path d="M440.5 442.8C441.4 442.0 444.3 439.4 446.0 438.1C447.8 436.7 450.3 435.4 451.1 434.9" fill="none" stroke="#9fcc2a" stroke-width="1.05" stroke-linecap="round"/>
<path d="M436.8 433.3C438.1 433.4 442.1 433.6 444.4 433.9C446.8 434.2 449.8 434.7 450.8 434.9" fill="none" stroke="#9fcc2a" stroke-width="1.05" stroke-linecap="round"/>
<path d="M442.8 430.9C443.5 431.3 445.5 432.6 446.8 433.3C448.2 433.9 450.2 434.6 450.8 434.9" fill="none" stroke="#9fcc2a" stroke-width="1.05" stroke-linecap="round"/>
<path d="M450.8 434.9C451.9 435.1 454.5 434.8 457.2 436.1C459.9 437.5 465.4 441.7 467.1 442.8" fill="none" stroke="#9fcc2a" stroke-width="1.05" stroke-linecap="round"/>
<path d="M450.8 434.9C452.2 434.9 456.3 434.3 458.8 434.9C461.3 435.4 464.8 437.5 466.0 438.1" fill="none" stroke="#9fcc2a" stroke-width="1.05" stroke-linecap="round"/>
<path d="M450.8 434.9C451.8 435.4 454.5 436.4 456.4 437.7C458.3 439.1 461.1 442.0 462.0 442.8" fill="none" stroke="#9fcc2a" stroke-width="1.05" stroke-linecap="round"/>
<path d="M450.8 434.9C451.2 435.5 452.3 437.4 453.2 438.9C454.1 440.3 455.9 442.8 456.4 443.6" fill="none" stroke="#9fcc2a" stroke-width="1.05" stroke-linecap="round"/>
<path d="M450.8 434.9C450.4 435.7 449.2 438.2 448.4 439.7C447.7 441.1 446.7 443.0 446.4 443.6" fill="none" stroke="#9fcc2a" stroke-width="1.05" stroke-linecap="round"/>
<path d="M450.8 434.9C452.0 434.6 455.9 433.8 458.0 433.3C460.1 432.8 462.7 432.2 463.6 432.0" fill="none" stroke="#9fcc2a" stroke-width="1.05" stroke-linecap="round"/>
<path d="M445.7 431.4C446.3 431.9 448.0 434.0 449.2 434.9C450.5 435.8 451.4 436.5 453.2 436.8C455.1 437.1 459.2 436.8 460.4 436.8" fill="none" stroke="#9fcc2a" stroke-width="1.05" stroke-linecap="round"/>
<path d="M449.2 433.6C449.4 431.9 449.7 427.2 450.0 423.7C450.3 420.2 450.9 415.9 451.1 412.5C451.4 409.2 451.5 405.2 451.6 403.8" fill="none" stroke="#8a5520" stroke-width="1.5" stroke-linecap="round"/>
<path d="M455.6 433.6C455.7 431.9 455.7 427.0 455.9 423.7C456.1 420.5 456.5 416.5 456.9 414.1C457.2 411.8 457.5 410.6 458.0 409.7C458.5 408.7 459.5 408.7 459.8 408.6" fill="none" stroke="#8a5520" stroke-width="1.5" stroke-linecap="round"/>
<path d="M450.3 396.6C450.9 396.8 451.6 398.6 451.8 399.8C451.9 401.0 451.5 402.7 451.1 403.8C450.8 404.9 450.5 405.9 449.9 406.5C449.2 407.0 448.0 407.4 447.3 407.1C446.7 406.9 446.1 405.8 446.0 404.9C446.0 403.9 446.6 402.4 447.0 401.4C447.4 400.3 448.0 399.3 448.6 398.5C449.1 397.7 449.8 396.4 450.3 396.6Z" fill="#8cc42a" stroke="#5d951c" stroke-width="0.5"/>
<path d="M457.8 407.8C458.2 407.2 459.9 407.6 460.7 408.1C461.6 408.6 462.5 409.7 462.9 410.6C463.4 411.6 463.7 413.0 463.6 413.8C463.5 414.6 462.9 415.4 462.3 415.4C461.7 415.5 460.7 414.8 460.1 414.1C459.4 413.4 458.8 412.3 458.5 411.3C458.1 410.2 457.5 408.3 457.8 407.8Z" fill="#8cc42a" stroke="#5d951c" stroke-width="0.5"/>
<path d="M429.9 448.6C430.6 448.7 431.6 449.1 432.2 449.5C432.7 450.0 433.3 450.6 433.2 451.3C433.2 452.0 432.5 453.2 431.9 453.7C431.3 454.2 430.1 453.5 429.6 454.5C429.2 455.4 429.4 457.4 429.0 459.4C428.6 461.3 427.9 464.1 427.2 466.1C426.6 468.1 425.8 469.8 425.2 471.3C424.5 472.8 423.7 473.7 423.5 475.0C423.3 476.3 424.3 478.2 424.1 479.0C423.9 479.9 423.1 480.2 422.5 480.4C421.8 480.5 420.8 480.5 420.2 479.9C419.7 479.4 419.5 477.1 419.2 477.3C418.8 477.4 418.8 480.3 418.2 481.0C417.5 481.6 416.0 481.8 415.5 481.1C414.9 480.5 415.4 478.0 414.9 477.3C414.3 476.5 412.7 476.4 412.0 476.7C411.3 477.0 411.2 478.5 410.7 479.0C410.2 479.6 409.7 480.2 409.2 479.9C408.7 479.7 408.1 477.4 407.7 477.4C407.3 477.5 407.3 479.7 406.7 480.2C406.0 480.8 404.2 481.1 403.8 480.5C403.5 479.9 404.5 477.8 404.4 476.7C404.4 475.5 404.4 474.4 403.5 473.7C402.7 472.9 400.7 472.8 399.4 472.2C398.1 471.6 396.5 470.8 395.6 470.0C394.8 469.1 394.2 467.9 394.2 466.8C394.1 465.7 394.7 464.3 395.5 463.2C396.3 462.2 397.8 461.1 399.1 460.3C400.4 459.4 402.5 458.3 403.2 458.0C404.0 457.8 404.2 458.2 403.7 458.8C403.2 459.4 401.5 460.8 400.4 461.8C399.4 462.8 398.1 463.8 397.4 464.7C396.8 465.7 396.5 466.7 396.7 467.4C396.9 468.1 397.8 468.8 398.8 469.1C399.7 469.3 401.1 469.5 402.4 468.9C403.6 468.3 404.9 466.4 406.2 465.5C407.6 464.5 409.0 463.7 410.6 463.2C412.1 462.8 414.2 462.7 415.8 463.0C417.4 463.2 419.0 464.5 420.2 465.0C421.5 465.5 422.4 466.4 423.2 465.9C424.0 465.5 424.4 463.9 424.9 462.4C425.3 460.8 425.6 458.1 425.9 456.4C426.2 454.7 426.2 453.1 426.5 451.9C426.8 450.8 427.3 449.9 427.8 449.4C428.4 448.8 429.2 448.6 429.9 448.6Z" fill="#ecbda6" stroke="#4a2412" stroke-width="1.1" stroke-linejoin="round"/>
<circle cx="431.6" cy="451.2" r="0.7" fill="#2a1208"/>
<path d="M430.3 453.2L433 453" stroke="#4a2412" stroke-width="0.6" fill="none"/>
<path d="M364.4 509.1C365.1 509.1 367.9 509.2 368.6 509.2" stroke="#1e4a22" stroke-width="2.0" stroke-linecap="round" fill="none"/>
<path d="M364.4 509.1C365.1 509.1 367.9 509.2 368.6 509.2" stroke="#78d878" stroke-width="0.95" stroke-linecap="round" fill="none"/>
<path d="M385.1 520.9C385.9 520.9 388.8 521.1 389.5 521.1" stroke="#1e4a22" stroke-width="2.0" stroke-linecap="round" fill="none"/>
<path d="M385.1 520.9C385.9 520.9 388.8 521.1 389.5 521.1" stroke="#78d878" stroke-width="0.95" stroke-linecap="round" fill="none"/>
<path d="M366.1 496.8C366.6 498.2 368.1 502.2 369.2 505.3C370.2 508.3 371.6 513.0 372.5 515.1C373.3 517.3 373.8 517.4 374.4 518.2C375.1 518.9 376.2 519.4 376.5 519.7" stroke="#1e4a22" stroke-width="2.7" stroke-linecap="round" fill="none"/>
<path d="M366.1 496.8C366.6 498.2 368.1 502.2 369.2 505.3C370.2 508.3 371.6 513.0 372.5 515.1C373.3 517.3 373.8 517.4 374.4 518.2C375.1 518.9 376.2 519.4 376.5 519.7" stroke="#78d878" stroke-width="1.6500000000000001" stroke-linecap="round" fill="none"/>
<path d="M388.8 502.2C388.4 503.6 387.0 507.7 386.1 510.7C385.2 513.8 384.2 517.9 383.4 520.6C382.6 523.3 382.1 525.5 381.4 526.9C380.7 528.3 379.9 528.6 379.2 529.1C378.5 529.5 377.6 529.4 377.3 529.5" stroke="#1e4a22" stroke-width="2.7" stroke-linecap="round" fill="none"/>
<path d="M388.8 502.2C388.4 503.6 387.0 507.7 386.1 510.7C385.2 513.8 384.2 517.9 383.4 520.6C382.6 523.3 382.1 525.5 381.4 526.9C380.7 528.3 379.9 528.6 379.2 529.1C378.5 529.5 377.6 529.4 377.3 529.5" stroke="#78d878" stroke-width="1.6500000000000001" stroke-linecap="round" fill="none"/>
<path d="M376.8 498.7C376.8 500.9 376.8 507.5 376.8 511.8C376.8 516.2 376.8 520.5 376.8 524.9C376.8 529.4 376.8 536.3 376.8 538.6" stroke="#1e4a22" stroke-width="2.7" stroke-linecap="round" fill="none"/>
<path d="M376.8 498.7C376.8 500.9 376.8 507.5 376.8 511.8C376.8 516.2 376.8 520.5 376.8 524.9C376.8 529.4 376.8 536.3 376.8 538.6" stroke="#78d878" stroke-width="1.6500000000000001" stroke-linecap="round" fill="none"/>
<path d="M375.9 504.7H377.8" stroke="#1e4a22" stroke-width="0.6"/>
<path d="M375.9 512.4H377.8" stroke="#1e4a22" stroke-width="0.6"/>
<path d="M375.9 529.5H377.8" stroke="#1e4a22" stroke-width="0.6"/>
<path d="M376.8 538.6L376.8 545.9" stroke="#1a2a1c" stroke-width="1.3" fill="none"/>
<path d="M373.3 538.0H376.6M375.1 546.3H378.6" stroke="#1a2a1c" stroke-width="1.1" fill="none"/>
</svg></body></html>
